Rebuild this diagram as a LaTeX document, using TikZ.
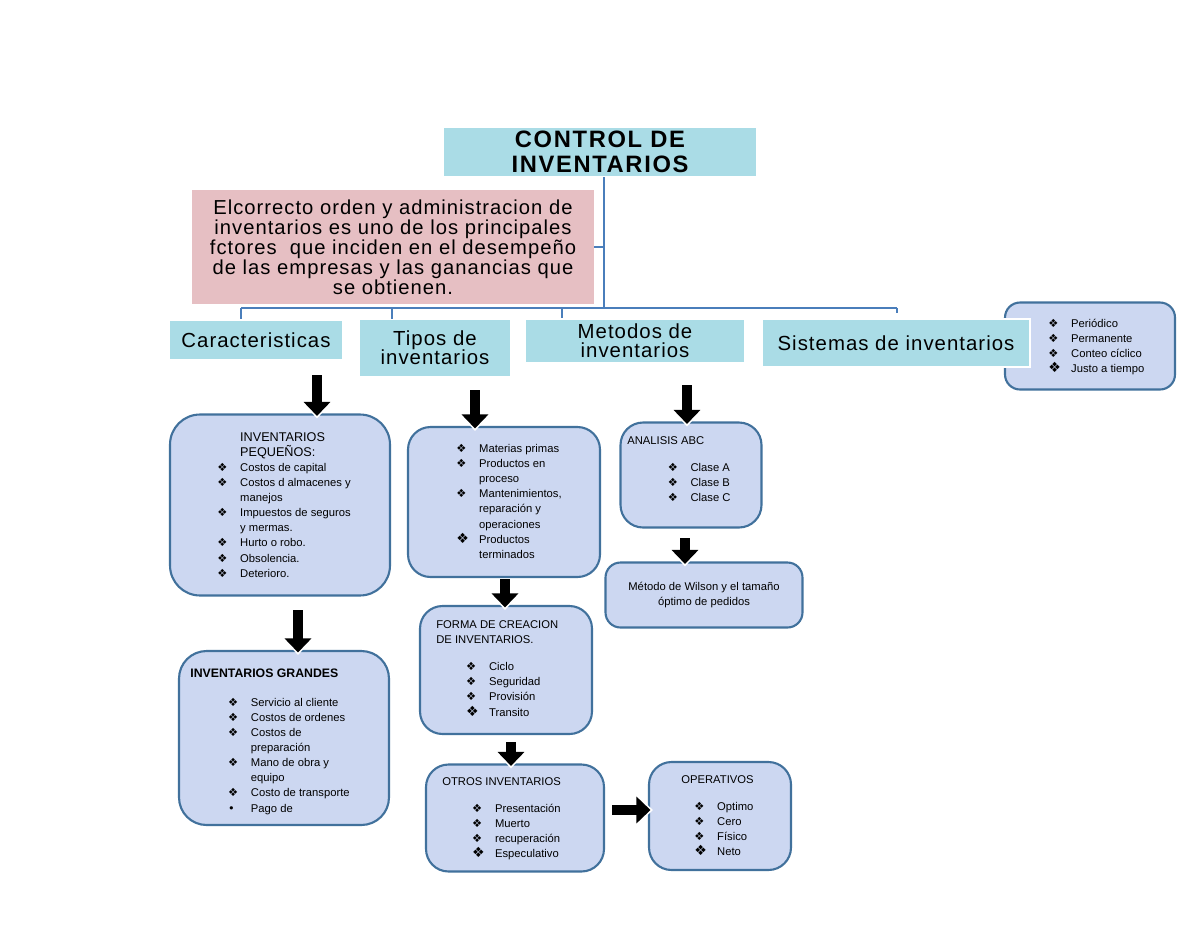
\documentclass[tikz,border=0pt]{standalone}
\usepackage{fontspec}
\setmainfont{Liberation Sans}
\newfontfamily\symfont{DejaVu Sans}
\newfontfamily\titlefont[LetterSpace=7]{Liberation Sans}
\newfontfamily\headfont[LetterSpace=5]{Liberation Sans}
\usetikzlibrary{arrows.meta,calc,positioning}
\definecolor{TrunkBlue}{RGB}{74,126,187}
\definecolor{BoxEdge}{RGB}{65,113,156}
\definecolor{WaterAqua}{RGB}{170,220,230}
\definecolor{SoftLilac}{RGB}{204,215,241}
\definecolor{SoftRose}{RGB}{230,191,195}
\newcommand{\dia}{\makebox[13pt][l]{\symfont\char"2756}}
\newcommand{\diab}{\makebox[13pt][l]{\symfont\fontsize{8}{8}\selectfont\char"2756}}
\newcommand{\cont}{\hspace*{13pt}}

\begin{document}
\begin{tikzpicture}[x=0.02cm, y=-0.02cm,
    water/.style={draw=white, line width=0.8pt, fill=WaterAqua, inner sep=2pt,
        align=center, font=\headfont\fontsize{11.6}{11}\selectfont},
    rose/.style={fill=SoftRose, inner sep=2pt, align=center,
        font=\headfont\fontsize{11.5}{11.4}\selectfont},
    lilac/.style={draw=BoxEdge, line width=1.2pt, fill=SoftLilac,
        rounded corners=0.45cm},
    txt/.style={anchor=north west, inner sep=0pt, align=left,
        font=\fontsize{6.4}{8.6}\selectfont},
    branch/.style={draw=TrunkBlue, line width=1.6pt},
    fat/.style={line width=0.2cm, -{Triangle[width=0.52cm,length=0.28cm]},
        shorten >=-0.05cm,
        preaction={draw=white, line width=0.2cm, shorten >=-0.1cm,
            -{Triangle[width=0.66cm,length=0.36cm]}}}]
\fill[white] (0,0) rectangle (1200,927);

% cabecera
\node[water, minimum width=6.28cm, minimum height=0.9cm,
    font=\titlefont\bfseries\fontsize{13.5}{14.2}\selectfont] (title) at (600,152)
    {CONTROL DE\\INVENTARIOS};
\node[rose, minimum width=8.04cm, minimum height=2.3cm] (intro) at (393,247)
    {Elcorrecto orden y administracion de\\inventarios es uno de los principales\\
     fctores\ \ que inciden en el desempeño\\de las empresas y las ganancias que\\
     se obtienen.};

% ramas
\coordinate (hub) at (604,308);
\coordinate (b1) at (241,308);
\coordinate (b2) at (392,308);
\coordinate (b3) at (562,308);
\coordinate (b4) at (897,308);
\draw[branch] (title.south -| hub) -- (hub);
\draw[branch] (intro.east) -- (intro.east -| hub);
\draw[branch] (b1) -- (b4);

\node[lilac, rounded corners=0.3cm, minimum width=3.4cm, minimum height=1.74cm]
    (sislist) at (1090,346) {};
\node[txt] (sist) at (1048,319)
    {\dia Periódico\\ \dia Permanente\\ \dia Conteo cíclico\\ \diab Justo a tiempo};

\node[water, minimum width=3.46cm, minimum height=0.8cm] (car) at (256,340)
    {Caracteristicas};
\node[water, minimum width=3.04cm, minimum height=1.14cm] (tipos) at (435,348)
    {Tipos de\\inventarios};
\node[water, minimum width=4.38cm, minimum height=0.88cm] (met) at (635,341)
    {Metodos de\\inventarios};
\node[water, line width=1.4pt, minimum width=5.36cm, minimum height=0.96cm] (sis)
    at (896,343) {Sistemas de inventarios};

\draw[branch] (b1) -- (b1 |- car.north);
\draw[branch] (b2) -- (b2 |- tipos.north);
\draw[branch] (b3) -- (b3 |- met.north);
\draw[branch] (b4) -- ([yshift=-0.1cm]b4);

% cajas de lista
\node[lilac, rounded corners=0.6cm, minimum width=4.4cm, minimum height=3.62cm]
    (peq) at (280,505) {};
\node[txt] (peqt) at (217,432)
    {\cont{\fontsize{7.2}{8.6}\selectfont INVENTARIOS}\\
     \cont{\fontsize{7.2}{9.2}\selectfont PEQUEÑOS:}\\
     \dia Costos de capital\\ \dia Costos d almacenes y\\ \cont manejos\\
     \dia Impuestos de seguros\\ \cont y mermas.\\ \dia Hurto o robo.\\
     \dia Obsolencia.\\ \dia Deterioro.};

\node[lilac, rounded corners=0.55cm, minimum width=4.2cm, minimum height=3.48cm]
    (gra) at (284,738) {};
\node[txt] (grat) at (190,669)
    {{\bfseries\fontsize{7}{8.6}\selectfont INVENTARIOS GRANDES}\\[7.5pt]
     \hspace*{21.5pt}\dia Servicio al cliente\\
     \hspace*{21.5pt}\dia Costos de ordenes\\
     \hspace*{21.5pt}\dia Costos de\\
     \hspace*{21.5pt}\cont preparación\\
     \hspace*{21.5pt}\dia Mano de obra y\\
     \hspace*{21.5pt}\cont equipo\\
     \hspace*{21.5pt}\dia Costo de transporte\\
     \hspace*{21.5pt}\makebox[13pt][l]{\symfont\char"2022}Pago de};

\node[lilac, minimum width=3.84cm, minimum height=3cm] (tip) at (504,502) {};
\node[txt] (tipt) at (456,444)
    {\dia Materias primas\\ \dia Productos en\\ \cont proceso\\
     \dia Mantenimientos,\\ \cont reparación y\\ \cont operaciones\\
     \diab Productos\\ \cont terminados};

\node[lilac, minimum width=3.44cm, minimum height=2.56cm] (forma) at (506,670) {};
\node[txt] (format) at (436,620)
    {FORMA DE CREACION\\ DE INVENTARIOS.\\[7pt]
     \hspace*{17pt}\dia Ciclo\\ \hspace*{17pt}\dia Seguridad\\
     \hspace*{17pt}\dia Provisión\\ \hspace*{17pt}\diab Transito};

\node[lilac, minimum width=3.56cm, minimum height=2.14cm] (otros) at (515,818) {};
\node[txt] (otrost) at (442,777)
    {OTROS INVENTARIOS\\[7pt]
     \hspace*{17pt}\dia Presentación\\ \hspace*{17pt}\dia Muerto\\
     \hspace*{17pt}\dia recuperación\\ \hspace*{17pt}\diab Especulativo};

\node[lilac, minimum width=2.84cm, minimum height=2.16cm] (oper) at (720,816) {};
\node[txt] (opert) at (681,775)
    {OPERATIVOS\\[7pt]
     \hspace*{7.4pt}\dia Optimo\\ \hspace*{7.4pt}\dia Cero\\
     \hspace*{7.4pt}\dia Físico\\ \hspace*{7.4pt}\diab Neto};

\node[lilac, minimum width=2.82cm, minimum height=2.1cm] (abc) at (691,475) {};
\node[txt] (abct) at (627,436)
    {ANALISIS ABC\\[7pt]
     \hspace*{23pt}\dia Clase A\\ \hspace*{23pt}\dia Clase B\\
     \hspace*{23pt}\dia Clase C};

\node[lilac, rounded corners=0.3cm, minimum width=3.94cm, minimum height=1.3cm,
    align=center, font=\fontsize{6.4}{8.8}\selectfont] (wil) at (704,595)
    {Método de Wilson y el tamaño\\óptimo de pedidos};

% flechas
\coordinate (a1) at (317,375);
\coordinate (a2) at (475,390);
\coordinate (a3) at (687,385);
\coordinate (a4) at (298,610);
\coordinate (a5) at (505,579);
\coordinate (a6) at (511,742);
\coordinate (a7) at (685,538);
\coordinate (a8) at (612,810);
\draw[fat] (a1) -- (a1 |- peq.north);
\draw[fat] (a2) -- (a2 |- tip.north);
\draw[fat] (a3) -- (a3 |- abc.north);
\draw[fat] (a4) -- (a4 |- gra.north);
\draw[fat] (a5) -- (a5 |- forma.north);
\draw[fat] (a6) -- (a6 |- otros.north);
\draw[fat] (a7) -- (a7 |- wil.north);
\draw[fat] (a8) -- (a8 -| oper.west);
\end{tikzpicture}
\end{document}
